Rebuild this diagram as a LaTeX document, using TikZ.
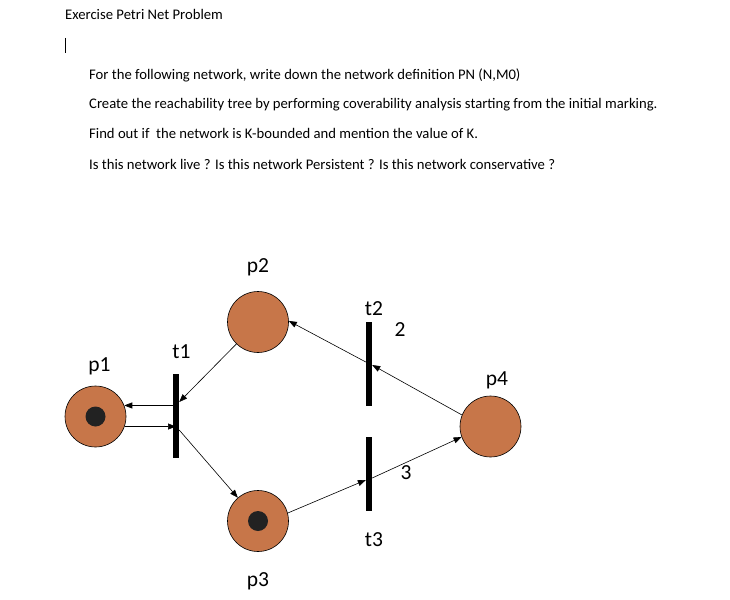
\documentclass[tikz,border=0pt]{standalone}
\usepackage{fontspec}
\setmainfont{Carlito}
\usetikzlibrary{arrows.meta}
\definecolor{placefill}{HTML}{C77649}
\definecolor{tokfill}{HTML}{222222}
\begin{document}
\begin{tikzpicture}[x=1pt,y=-1pt,
  place/.style={circle,draw=black,line width=0.6pt,fill=placefill,minimum size=61pt,inner sep=0pt},
  token/.style={circle,fill=tokfill,minimum size=20pt,inner sep=0pt},
  trans/.style={rectangle,fill=black,minimum width=6pt,inner sep=0pt},
  lab/.style={font=\fontsize{21.5}{24}\selectfont,inner sep=0pt},
  txt/.style={anchor=base west,font=\fontsize{14.67}{17}\selectfont,inner sep=0pt},
  arr/.style={-{Triangle[length=8pt,width=6pt]},line width=0.6pt}]
\useasboundingbox (0,0) rectangle (730,599);
\fill[white] (0,0) rectangle (730,599);
% text
\node[txt] (title) at (65,20) {Exercise Petri Net Problem};
\coordinate (cura) at (65,38);
\coordinate (curb) at (65,53);
\draw[line width=0.8pt] (cura) -- (curb);
\node[txt] (l1) at (89,80) {For the following network, write down the network definition PN (N,M0)};
\node[txt] (l2) at (89,109) {Create the reachability tree by performing coverability analysis starting from the initial marking.};
\node[txt] (l3) at (89,139) {Find out if\ \ the network is K-bounded and mention the value of K.};
\node[txt] (l4) at (89,169) {Is this network live ? Is this network Persistent ? Is this network conservative ?};
% places
\node[place] (p1) at (95.5,416.5) {};
\node[token] (k1) at (95.5,416.5) {};
\node[place] (p2) at (258,322) {};
\node[place] (p3) at (258,521) {};
\node[token] (k3) at (258,521) {};
\node[place] (p4) at (490.5,426.5) {};
% transitions
\node[trans,minimum height=84pt] (t1) at (176,416) {};
\node[trans,minimum height=84pt] (t2) at (369,364) {};
\node[trans,minimum height=74pt] (t3) at (369,474) {};
% labels
\node[lab] (lp1) at (99.5,366) {p1};
\node[lab] (lt1) at (181.5,352) {t1};
\node[lab] (lp2) at (258,267) {p2};
\node[lab] (lt2) at (374,309) {t2};
\node[lab] (lw2) at (400,330) {2};
\node[lab] (lp4) at (497,380) {p4};
\node[lab] (lw3) at (406,473) {3};
\node[lab] (lt3) at (374,540) {t3};
\node[lab] (lp3) at (258,581) {p3};
% connection points
\coordinate (t1in) at ([yshift=14pt]t1.east);
\coordinate (t1out) at ([yshift=-14pt]t1.east);
\coordinate (t2in) at ([yshift=-1pt]t2.east);
\coordinate (t2out) at ([yshift=2pt]t2.west);
\coordinate (t3in) at ([yshift=-6pt]t3.west);
\coordinate (t3out) at ([yshift=-4pt]t3.east);
% arcs
\draw[arr] (t1.center |- p1.21) -- (p1.21);
\draw[arr] (p1.-19) -- (t1.center |- p1.-19);
\draw[arr] (p2) -- (t1in);
\draw[arr] (t1out) -- (p3);
\draw[arr] (p4.158) -- (t2in);
\draw[arr] (t2out) -- (p2.2);
\draw[arr] (p3.15) -- (t3in);
\draw[arr] (t3out) -- (p4.200);
\end{tikzpicture}
\end{document}
